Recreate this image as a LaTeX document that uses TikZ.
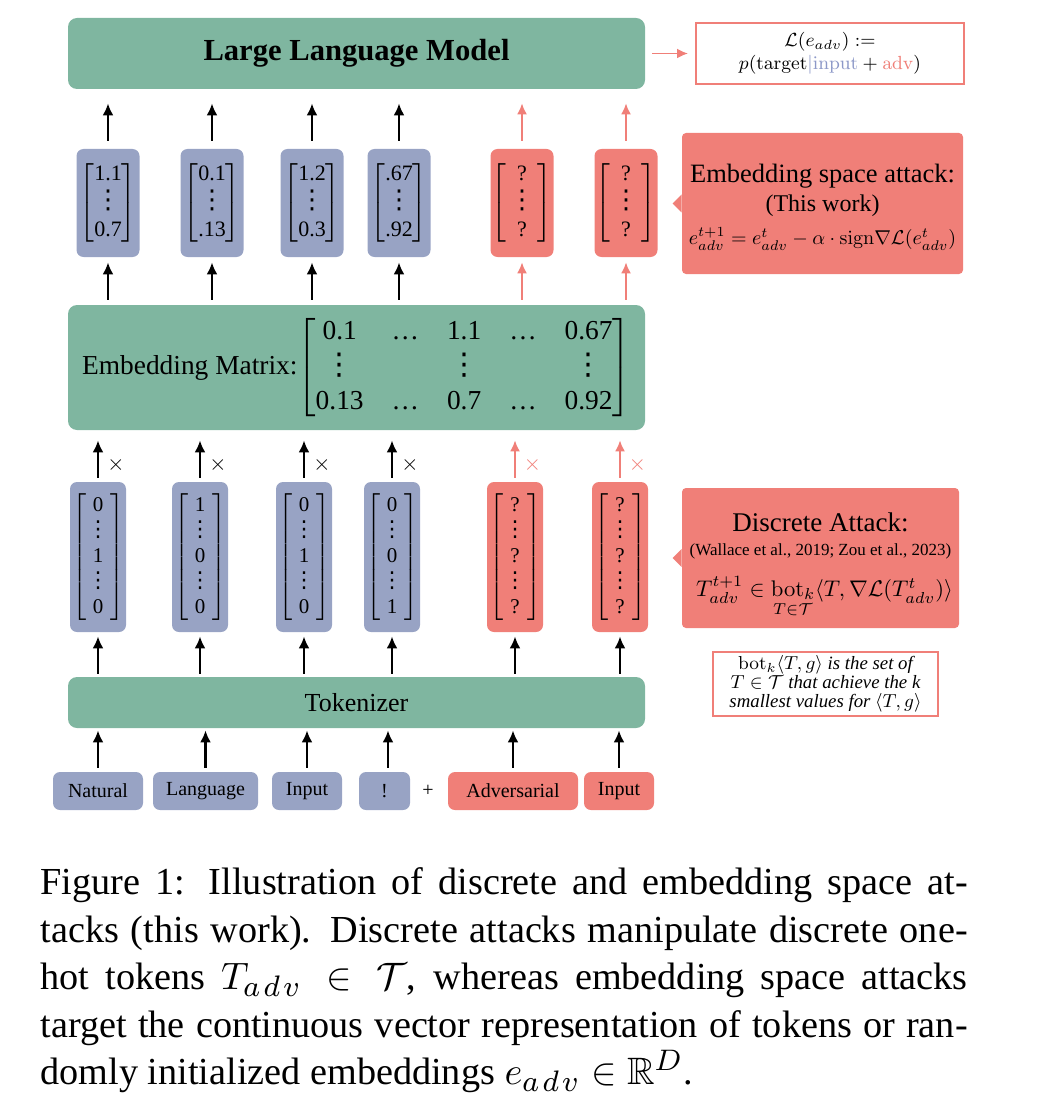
\documentclass[tikz,border=0pt]{standalone}
\usepackage{fix-cm}
\usepackage{amsmath}
\usepackage{amssymb}
\usepackage[no-math]{fontspec}
\setmainfont{Liberation Serif}
\newfontfamily\symfont{DejaVu Sans}
\usepackage{tikz}
\usetikzlibrary{arrows.meta,positioning}

\definecolor{llmgreen}{RGB}{127,182,160}
\definecolor{tokblue}{RGB}{152,163,196}
\definecolor{advred}{RGB}{240,127,120}
\definecolor{inpblue}{RGB}{140,152,200}

\DeclareMathSizes{10.95}{10.95}{8.5}{6}
\newcommand{\setfs}[2]{\fontsize{#1}{#2}\selectfont}
\newcommand{\dotcol}[1]{\text{\symfont\fontsize{#1}{#1}\selectfont ⋮}}
\newcommand{\embvec}[3]{$\begin{bmatrix}\text{\makebox[#1]{#2}}\\\dotcol{13pt}\\\text{\makebox[#1]{#3}}\end{bmatrix}$}
\newcommand{\hotvec}[3]{$\begin{bmatrix}\text{\makebox[12pt]{#1}}\\\dotcol{11pt}\\\text{\makebox[12pt]{#2}}\\\dotcol{11pt}\\\text{\makebox[12pt]{#3}}\end{bmatrix}$}

\tikzstyle{greenbox} = [rectangle, fill=llmgreen, rounded corners=4.5pt, minimum width=288.5pt, inner sep=0pt]
\tikzstyle{embbox} = [rectangle, rounded corners=3.5pt, inner sep=0pt, minimum width=31.5pt, minimum height=54pt, font=\setfs{11}{13.75}]
\tikzstyle{hotbox} = [rectangle, rounded corners=3.5pt, inner sep=0pt, minimum width=28pt, minimum height=75pt, font=\setfs{10.5}{12.75}]
\tikzstyle{tokbox} = [rectangle, rounded corners=3.5pt, inner sep=0pt, minimum height=19pt, font=\setfs{10}{12}]
\tikzstyle{attbox} = [rectangle, fill=advred, rounded corners=2pt, inner sep=0pt]
\tikzstyle{notebox} = [rectangle, draw=advred, line width=1pt, fill=white, inner sep=0pt, align=center]
\tikzstyle{arr} = [-{Latex[length=6pt,width=5.5pt]}, line width=1.3pt]
\tikzstyle{advarr} = [-{Latex[length=5.5pt,width=5pt]}, line width=0.9pt, draw=advred]
\tikzstyle{mult} = [font=\setfs{11}{12}, inner sep=0pt]

\begin{document}
\begin{tikzpicture}
  \useasboundingbox (0pt,0pt) rectangle (526.5pt,-559pt);
  % the three wide blocks
  \draw (178.25pt, -26.75pt) node[greenbox, minimum height=35.5pt, font=\setfs{15.3}{18}\bfseries] (llm) {Large Language Model};
  \draw (178.25pt, -183.75pt) node[greenbox, minimum height=62.5pt, font=\setfs{13.7}{17.5}] (emb) {\setlength{\arraycolsep}{7pt}Embedding Matrix:$\begin{bmatrix}\text{0.1} & \text{\ldots} & \text{1.1} & \text{\ldots} & \text{0.67}\\ \dotcol{15pt} & & \dotcol{15pt} & & \dotcol{15pt}\\ \text{0.13} & \text{\ldots} & \text{0.7} & \text{\ldots} & \text{0.92}\end{bmatrix}$};
  \draw (178.25pt, -351.25pt) node[greenbox, minimum height=25.5pt, font=\setfs{13}{15}] (tok) {Tokenizer};

  % embedded vectors
  \draw (54pt, -101.5pt) node[embbox, fill=tokblue] (e1) {\embvec{13.75pt}{1.1}{0.7}};
  \draw (106pt, -101.5pt) node[embbox, fill=tokblue] (e2) {\embvec{13.75pt}{0.1}{.13}};
  \draw (156pt, -101.5pt) node[embbox, fill=tokblue] (e3) {\embvec{13.75pt}{1.2}{0.3}};
  \draw (199.5pt, -101.5pt) node[embbox, fill=tokblue] (e4) {\embvec{13.75pt}{.67}{.92}};
  \draw (261pt, -101.5pt) node[embbox, fill=advred] (e5) {\embvec{15.5pt}{?}{?}};
  \draw (313pt, -101.5pt) node[embbox, fill=advred] (e6) {\embvec{15.5pt}{?}{?}};

  % one-hot vectors
  \draw (49pt, -278.5pt) node[hotbox, fill=tokblue] (o1) {\hotvec{0}{1}{0}};
  \draw (100pt, -278.5pt) node[hotbox, fill=tokblue] (o2) {\hotvec{1}{0}{0}};
  \draw (152pt, -278.5pt) node[hotbox, fill=tokblue] (o3) {\hotvec{0}{1}{0}};
  \draw (196pt, -278.5pt) node[hotbox, fill=tokblue] (o4) {\hotvec{0}{0}{1}};
  \draw (257.5pt, -278.5pt) node[hotbox, fill=advred] (o5) {\hotvec{?}{?}{?}};
  \draw (310pt, -278.5pt) node[hotbox, fill=advred] (o6) {\hotvec{?}{?}{?}};

  % input tokens
  \draw (49pt, -395.5pt) node[tokbox, fill=tokblue, minimum width=45pt] (t1) {Natural};
  \draw (102.75pt, -395.5pt) node[tokbox, fill=tokblue, minimum width=52.5pt] (t2) {Language};
  \draw (153.5pt, -395.5pt) node[tokbox, fill=tokblue, minimum width=35pt] (t3) {Input};
  \draw (192.25pt, -395.5pt) node[tokbox, fill=tokblue, minimum width=25.5pt] (t4) {!};
  \draw (214pt, -395.5pt) node[font=\setfs{10}{12}] (plus) {+};
  \draw (256.5pt, -395.5pt) node[tokbox, fill=advred, minimum width=65pt] (t5) {Adversarial};
  \draw (309.5pt, -395.5pt) node[tokbox, fill=advred, minimum width=35pt] (t6) {Input};

  % tokens into the tokenizer
  \draw[arr, shorten <=2pt, shorten >=1pt] (t1.north) -- (t1.north |- tok.south);
  \draw[arr, shorten <=2pt, shorten >=1pt] (t2.north) -- (t2.north |- tok.south);
  \draw[arr, shorten <=2pt, shorten >=1pt] (t3.north) -- (t3.north |- tok.south);
  \draw[arr, shorten <=2pt, shorten >=1pt] ([xshift=1.75pt]t4.north) -- ([xshift=1.75pt]t4.north |- tok.south);
  \draw[arr, shorten <=2pt, shorten >=1pt] (t5.north) -- (t5.north |- tok.south);
  \draw[arr, shorten <=2pt, shorten >=1pt] (t6.north) -- (t6.north |- tok.south);

  % tokenizer to one-hot vectors
  \draw[arr, shorten <=1.5pt, shorten >=2pt] (o1.south |- tok.north) -- (o1.south);
  \draw[arr, shorten <=1.5pt, shorten >=2pt] (o2.south |- tok.north) -- (o2.south);
  \draw[arr, shorten <=1.5pt, shorten >=2pt] (o3.south |- tok.north) -- (o3.south);
  \draw[arr, shorten <=1.5pt, shorten >=2pt] (o4.south |- tok.north) -- (o4.south);
  \draw[arr, shorten <=1.5pt, shorten >=2pt] (o5.south |- tok.north) -- (o5.south);
  \draw[arr, shorten <=1.5pt, shorten >=2pt] (o6.south |- tok.north) -- (o6.south);

  % one-hot vectors times the embedding matrix
  \draw[arr, shorten <=2pt, shorten >=5pt] (o1.north) -- (o1.north |- emb.south) node[mult, pos=0.33, right=4pt] (x1) {$\times$};
  \draw[arr, shorten <=2pt, shorten >=5pt] (o2.north) -- (o2.north |- emb.south) node[mult, pos=0.33, right=4pt] (x2) {$\times$};
  \draw[arr, shorten <=2pt, shorten >=5pt] (o3.north) -- (o3.north |- emb.south) node[mult, pos=0.33, right=4pt] (x3) {$\times$};
  \draw[arr, shorten <=2pt, shorten >=5pt] (o4.north) -- (o4.north |- emb.south) node[mult, pos=0.33, right=4pt] (x4) {$\times$};
  \draw[advarr, shorten <=2pt, shorten >=5pt] (o5.north) -- (o5.north |- emb.south) node[mult, pos=0.33, right=4pt, text=advred] (x5) {$\times$};
  \draw[advarr, shorten <=2pt, shorten >=5pt] (o6.north) -- (o6.north |- emb.south) node[mult, pos=0.33, right=4pt, text=advred] (x6) {$\times$};

  % embedding matrix to embedded vectors
  \draw[arr, shorten <=2.5pt, shorten >=2.5pt] (e1.south |- emb.north) -- (e1.south);
  \draw[arr, shorten <=2.5pt, shorten >=2.5pt] (e2.south |- emb.north) -- (e2.south);
  \draw[arr, shorten <=2.5pt, shorten >=2.5pt] (e3.south |- emb.north) -- (e3.south);
  \draw[arr, shorten <=2.5pt, shorten >=2.5pt] (e4.south |- emb.north) -- (e4.south);
  \draw[advarr, shorten <=2.5pt, shorten >=2.5pt] (e5.south |- emb.north) -- (e5.south);
  \draw[advarr, shorten <=2.5pt, shorten >=2.5pt] (e6.south |- emb.north) -- (e6.south);

  % embedded vectors into the model
  \draw[arr, shorten <=4pt, shorten >=7pt] (e1.north) -- (e1.north |- llm.south);
  \draw[arr, shorten <=4pt, shorten >=7pt] (e2.north) -- (e2.north |- llm.south);
  \draw[arr, shorten <=4pt, shorten >=7pt] (e3.north) -- (e3.north |- llm.south);
  \draw[arr, shorten <=4pt, shorten >=7pt] (e4.north) -- (e4.north |- llm.south);
  \draw[advarr, shorten <=4pt, shorten >=7pt] (e5.north) -- (e5.north |- llm.south);
  \draw[advarr, shorten <=4pt, shorten >=7pt] (e6.north) -- (e6.north |- llm.south);

  % loss
  \draw (415pt, -26.75pt) node[notebox, minimum width=134pt, minimum height=30.5pt, font=\setfs{9.5}{11.5}] (loss) {$\mathcal{L}(e_{adv}) :=$\\ $p(\mathrm{target}\textcolor{inpblue}{|\mathrm{input}} + \textcolor{advred}{\mathrm{adv}})$};
  \draw[advarr, shorten <=3.5pt, shorten >=3.5pt] (llm.east) -- (loss.west);

  % embedding space attack
  \draw (411.25pt, -101.75pt) node[attbox, minimum width=140.5pt, minimum height=70.5pt] (att1) {};
  \fill[advred] ([yshift=4.5pt]att1.west) -- ([xshift=-4.5pt]att1.west) -- ([yshift=-4.5pt]att1.west) -- cycle;
  \draw ([yshift=-25pt]att1.north) node[anchor=base, font=\setfs{13.25}{15}] (att1a) {Embedding space attack:};
  \draw ([yshift=-39.5pt]att1.north) node[anchor=base, font=\setfs{12}{14}] (att1b) {(This work)};
  \draw ([yshift=-56pt]att1.north) node[anchor=base, font=\setfs{10}{12}] (att1c) {$e^{t+1}_{adv} = e^{t}_{adv} - \alpha \cdot \mathrm{sign}\nabla\mathcal{L}(e^{t}_{adv})$};

  % discrete attack
  \draw (410.25pt, -279pt) node[attbox, minimum width=138.5pt, minimum height=70pt] (att2) {};
  \fill[advred] ([yshift=4.5pt]att2.west) -- ([xshift=-4.5pt]att2.west) -- ([yshift=-4.5pt]att2.west) -- cycle;
  \draw ([yshift=-22pt]att2.north) node[anchor=base, font=\setfs{13.5}{15}] (att2a) {Discrete Attack:};
  \draw ([yshift=-34pt]att2.north) node[anchor=base, font=\setfs{8.5}{10}] (att2b) {(Wallace et al., 2019; Zou et al., 2023)};
  \draw ([xshift=2pt, yshift=-54.5pt]att2.north) node[anchor=base, font=\setfs{11.3}{13}] (att2c) {$T^{t+1}_{adv} \in \underset{T\in\mathcal{T}}{\mathrm{bot}_k}\langle T, \nabla\mathcal{L}(T^{t}_{adv})\rangle$};

  % definition of bot
  \draw (412.75pt, -342pt) node[notebox, minimum width=112.5pt, minimum height=32pt, font=\setfs{9.4}{9.5}\itshape] (bot) {$\mathrm{bot}_k\langle T, g\rangle$ is the set of\\ $T \in \mathcal{T}$ that achieve the k\\ smallest values for $\langle T, g\rangle$};

  % caption
  \draw (20pt, -433.5pt) node[anchor=north west, scale=1.745, transform shape, inner sep=0pt, text width=265.6pt, align=justify, font=\setfs{10.95}{13.6}] (cap) {Figure 1: Illustration of discrete and embedding space at-\linebreak tacks (this work). Discrete attacks manipulate discrete one-\linebreak hot tokens $T_{a\mkern2mu d\mkern2mu v} \in \mathcal{T}$, whereas embedding space attacks\linebreak target the continuous vector representation of tokens or ran-\linebreak domly initialized embeddings $e_{a\mkern2mu d\mkern2mu v} \in \mathbb{R}^D$.};
\end{tikzpicture}
\end{document}
